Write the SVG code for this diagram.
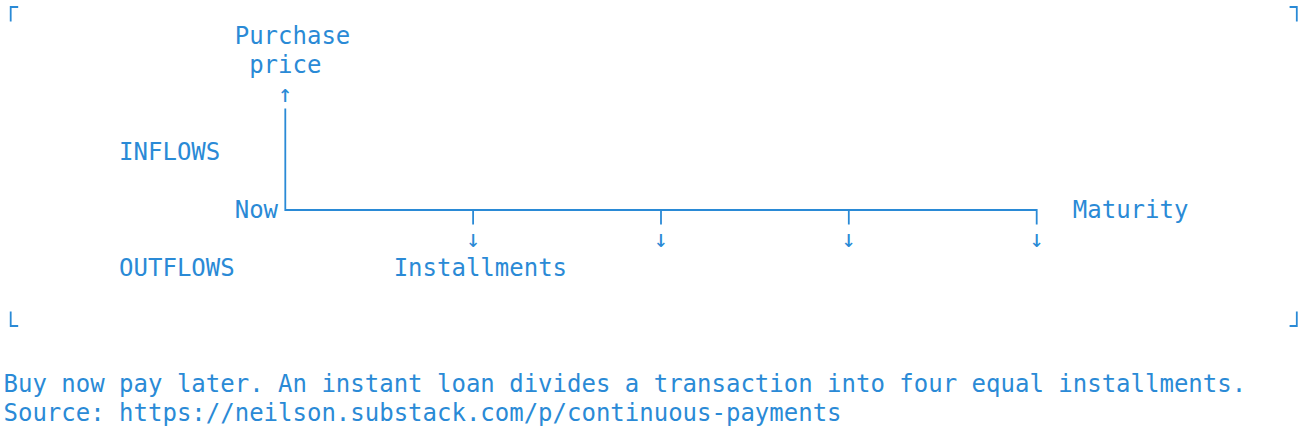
<svg xmlns="http://www.w3.org/2000/svg" width="1304" height="431" viewBox="0 0 1304 431">
<style>
text{font-family:"DejaVu Sans Mono","Liberation Mono",monospace;font-size:24px;fill:#2a8ad6;}
.ln{stroke:#2a8ad6;stroke-width:1.8;fill:none;stroke-linecap:butt;}
</style>
<rect width="1304" height="431" fill="#ffffff"/>
<g id="frame">
<path class="ln" d="M18.2,7 H10.7 V21.5"/>
<path class="ln" d="M1289.6,7 H1296.8 V21.5"/>
<path class="ln" d="M10.7,311.5 V326 H18.2"/>
<path class="ln" d="M1296.8,311.5 V326 H1289.6"/>
</g>
<g id="connectors">
<path class="ln" d="M285.3,108.5 V210 H1036.7 V224.5"/>
<path class="ln" d="M473.1,210 V224.5"/>
<path class="ln" d="M661,210 V224.5"/>
<path class="ln" d="M848.8,210 V224.5"/>
</g>
<g id="purchase-price">
<text x="234.7" y="44">Purchase</text>
<text x="249.15" y="73">price</text>
<text x="278.05" y="102">↑</text>
</g>
<g id="inflows"><text x="119.1" y="160">INFLOWS</text></g>
<g id="now"><text x="234.7" y="218">Now</text></g>
<g id="maturity"><text x="1072.8" y="218">Maturity</text></g>
<g id="installment-arrows">
<text x="465.9" y="247">↓</text>
<text x="653.75" y="247">↓</text>
<text x="841.6" y="247">↓</text>
<text x="1029.45" y="247">↓</text>
</g>
<g id="outflows"><text x="119.1" y="276">OUTFLOWS</text></g>
<g id="installments"><text x="393.65" y="276">Installments</text></g>
<g id="caption">
<text x="3.5" y="392">Buy now pay later. An instant loan divides a transaction into four equal installments.</text>
<text x="3.5" y="421">Source: https://neilson.substack.com/p/continuous-payments</text>
</g>
</svg>
